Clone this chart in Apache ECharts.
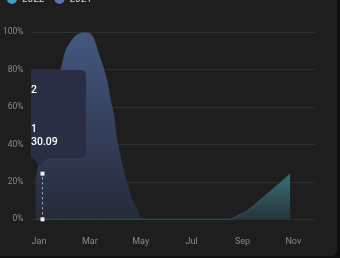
<!DOCTYPE html>
<html><head><meta charset="utf-8">
<script src="https://cdn.jsdelivr.net/npm/echarts@6/dist/echarts.min.js"></script>
<style>
html,body{margin:0;padding:0;background:#0f0f0f;width:340px;height:258px;overflow:hidden;}
#c{position:absolute;left:0;top:0;width:337px;height:256px;background:#1e1e1e;border-bottom-right-radius:6px;overflow:hidden;}
</style></head>
<body><div id="c"></div>
<script>
// month index (0 = Jan) -> share of peak
var months = ['Jan','Feb','Mar','Apr','May','Jun','Jul','Aug','Sep','Oct','Nov','Dec'];
var labelMonths = [0,2,4,6,8,10];
var x2021 = [-0.13, 0.45, 0.85, 1.24, 1.83, 2.42, 2.89, 3.12, 3.47, 3.83, 4.18, 5, 6, 7, 8, 9, 9.87];
var v2021 = [22, 58, 80, 95, 100, 86, 60, 40, 20, 6, 0, 0, 0, 0, 0, 0, 0];
var x2022 = [-0.13, 1, 2, 3, 4, 5, 6, 7, 7.4, 7.91, 8.3, 8.69, 9.16, 9.87];
var v2022 = [0, 0, 0, 0, 0, 0, 0, 0, 0, 2.5, 5.7, 10.3, 15.7, 24.3];
var pointerX = 0.14;
var pointerValue = 24.4;
var tooltipLines = ['2', '1', '30.09'];

function pairs(xs, vals){ return vals.map(function(v,i){ return [xs[i], v]; }); }

var chart = echarts.init(document.getElementById('c'), null, {renderer:'canvas'});
chart.setOption({
  backgroundColor: '#1e1e1e',
  animation: false,
  legend: {
    data: ['2022','2021'], left: 2, top: -11, icon: 'circle', itemWidth: 10, itemHeight: 10, itemGap: 10,
    textStyle: {color: '#cfcfcf', fontSize: 10, fontFamily: 'Roboto'}
  },
  grid: {left: 31, right: 21.5, top: 32.3, bottom: 36.7},
  xAxis: {
    type: 'value', min: -0.29, max: 10.87,
    axisLine: {show: false}, axisTick: {show: false}, splitLine: {show: false},
    axisLabel: {customValues: labelMonths, formatter: function(v){ return months[Math.round(v)]; },
      color: '#8a8a8a', fontSize: 9, margin: 18, fontFamily: 'Roboto'}
  },
  yAxis: {
    type: 'value', min: 0, max: 100, interval: 20,
    axisLine: {show: false}, axisTick: {show: false},
    splitLine: {lineStyle: {color: '#2e2e2e', width: 1}},
    axisLabel: {formatter: '{value}%', color: '#8a8a8a', fontSize: 8.5, margin: 8, fontFamily: 'Roboto'}
  },
  series: [
    {
      name: '2022', type: 'line', smooth: 0.5, symbol: 'none', data: pairs(x2022, v2022),
      itemStyle: {color: '#3aa2c4'},
      lineStyle: {color: '#2e5e66', width: 1},
      areaStyle: {opacity: 1, color: new echarts.graphic.LinearGradient(0,0,0,1,[{offset:0,color:'#3d6f78'},{offset:1,color:'#24343a'}])}
    },
    {
      name: '2021', type: 'line', smooth: 0.5, symbol: 'none', data: pairs(x2021, v2021),
      itemStyle: {color: '#5a70b8'},
      lineStyle: {width: 0},
      areaStyle: {opacity: 1, color: new echarts.graphic.LinearGradient(0,0,0,1,[{offset:0,color:'#44587f'},{offset:1,color:'#262a3a'}])}
    },
    {
      name: 'pointer', type: 'line', data: [[pointerX, 0],[pointerX, pointerValue]],
      symbol: 'rect', symbolSize: 4, showSymbol: true,
      itemStyle: {color: '#f0f0f0'},
      lineStyle: {color: '#bdbdbd', width: 1, type: [2,3]}, z: 5
    }
  ],
  graphic: [
    {type: 'rect', shape: {x: 31, y: 70, width: 55, height: 88, r: [0,5,5,0]}, style: {fill: '#2a2e44'}, z: 100},
    {type: 'polygon', shape: {points: [[32,157],[48,157],[40,166]]}, style: {fill: '#2a2e44'}, z: 100},
    {type: 'text', x: 31, y: 84.5, style: {text: tooltipLines[0], fill: '#ffffff', fontSize: 10.5, fontFamily: 'Roboto', fontWeight: 500}, z: 101},
    {type: 'text', x: 31, y: 123.5, style: {text: tooltipLines[1], fill: '#ffffff', fontSize: 10.5, fontFamily: 'Roboto', fontWeight: 500}, z: 101},
    {type: 'text', x: 31, y: 136.5, style: {text: tooltipLines[2], fill: '#ffffff', fontSize: 10.5, fontFamily: 'Roboto', fontWeight: 500}, z: 101}
  ]
});
</script></body></html>
